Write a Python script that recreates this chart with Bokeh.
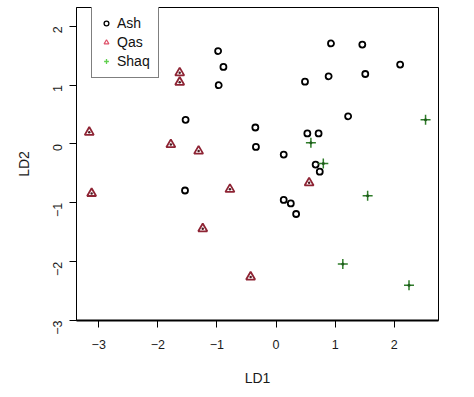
from bokeh.plotting import figure
from bokeh.models import Range1d, FixedTicker, Legend, LegendItem
from bokeh.embed import file_html
from bokeh.resources import INLINE
import math

# Data (LD1, LD2) per group
ash_ld1 = [-0.98, -0.89, -0.97, -1.53, -0.35, -0.34, 0.13, 0.53, 0.72, 0.49, 0.89,
           0.93, 1.46, 1.51, 2.10, 1.22, 0.67, 0.74, -1.54, 0.13, 0.25, 0.34]
ash_ld2 = [1.58, 1.31, 1.00, 0.41, 0.28, -0.05, -0.18, 0.18, 0.18, 1.06, 1.15,
           1.71, 1.69, 1.19, 1.35, 0.47, -0.35, -0.47, -0.79, -0.95, -1.01, -1.19]

qas_ld1 = [-1.63, -1.63, -3.16, -1.78, -1.31, -3.12, -0.78, -1.24, -0.43, 0.56]
qas_ld2 = [1.21, 1.05, 0.20, -0.01, -0.12, -0.84, -0.77, -1.44, -2.26, -0.66]

shaq_ld1 = [2.53, 0.59, 0.80, 1.55, 1.13, 2.25]
shaq_ld2 = [0.41, 0.02, -0.33, -0.88, -2.04, -2.40]

groups = ["Ash", "Qas", "Shaq"]
x_ticks = [-3, -2, -1, 0, 1, 2]
y_ticks = [-3, -2, -1, 0, 1, 2]

FONT = "Liberation Sans"

p = figure(width=458, height=388, output_backend="svg", toolbar_location=None,
           x_range=Range1d(-3.376, 2.749), y_range=Range1d(-3.0, 2.32),
           min_border_left=76, min_border_right=20, min_border_top=7,
           min_border_bottom=66)
p.grid.visible = False
p.outline_line_color = "black"
p.outline_line_width = 1
p.background_fill_color = "white"
p.border_fill_color = "white"

for ax, ticks in ((p.xaxis[0], x_ticks), (p.yaxis[0], y_ticks)):
    ax.ticker = FixedTicker(ticks=ticks)
    ax.minor_tick_line_color = None
    ax.major_tick_out = 7
    ax.major_tick_in = 0
    ax.major_tick_line_color = "black"
    ax.axis_line_color = "black"
    ax.major_label_text_font = FONT
    ax.major_label_text_font_size = "12.5px"
    ax.major_label_text_color = "#1a1a1a"
    ax.axis_label_text_font = FONT
    ax.axis_label_text_font_size = "14px"
    ax.axis_label_text_font_style = "normal"
    ax.axis_label_text_color = "#1a1a1a"

p.xaxis.axis_label = "LD1"
p.yaxis.axis_label = "LD2"
p.xaxis.axis_line_width = 2
p.xaxis.major_label_standoff = 12
p.xaxis.axis_label_standoff = 18
p.yaxis.major_label_orientation = math.pi / 2
p.yaxis.major_label_standoff = 12
p.yaxis.axis_label_standoff = 14

p.scatter(ash_ld1, ash_ld2, marker="circle", size=6, fill_color=None,
          line_color="black", line_width=1.8)
p.scatter(qas_ld1, qas_ld2, marker="triangle", size=9, fill_color=None,
          line_color="#8e2434", line_width=1.8)
p.scatter(qas_ld1, qas_ld2, marker="circle", size=2.5, fill_color="#4a1a20",
          line_color=None)
p.scatter(shaq_ld1, shaq_ld2, marker="cross", size=10,
          line_color="#2f7d2a", line_width=1.5)
p.scatter(shaq_ld1, shaq_ld2, marker="circle", size=3, fill_color="#1f5a1c",
          line_color=None)

# Legend glyphs (lighter, as in the key); hidden renderers used only for the key
l_ash = p.scatter(ash_ld1[:1], ash_ld2[:1], marker="circle", size=5,
                  fill_color=None, line_color="black", line_width=1.3,
                  visible=False)
l_qas = p.scatter(qas_ld1[:1], qas_ld2[:1], marker="triangle", size=10,
                  fill_color=None, line_color="#DF536B", line_width=1.2,
                  visible=False)
l_shaq = p.scatter(shaq_ld1[:1], shaq_ld2[:1], marker="cross", size=10,
                   line_color="#61D04F", line_width=1.3, visible=False)

legend = Legend(items=[LegendItem(label=groups[0], renderers=[l_ash]),
                       LegendItem(label=groups[1], renderers=[l_qas]),
                       LegendItem(label=groups[2], renderers=[l_shaq])],
                location=(15, 242))
legend.border_line_color = "black"
legend.border_line_width = 1
legend.background_fill_alpha = 1
legend.padding = 8
legend.spacing = 3
legend.glyph_height = 14
legend.glyph_width = 12
legend.label_height = 14
legend.label_standoff = 5
legend.label_text_font = FONT
legend.label_text_font_size = "14px"
legend.label_text_color = "#111111"
legend.margin = 0
legend.click_policy = "none"
p.add_layout(legend, "center")

with open("out.html", "w") as f:
    f.write(file_html(p, INLINE))
